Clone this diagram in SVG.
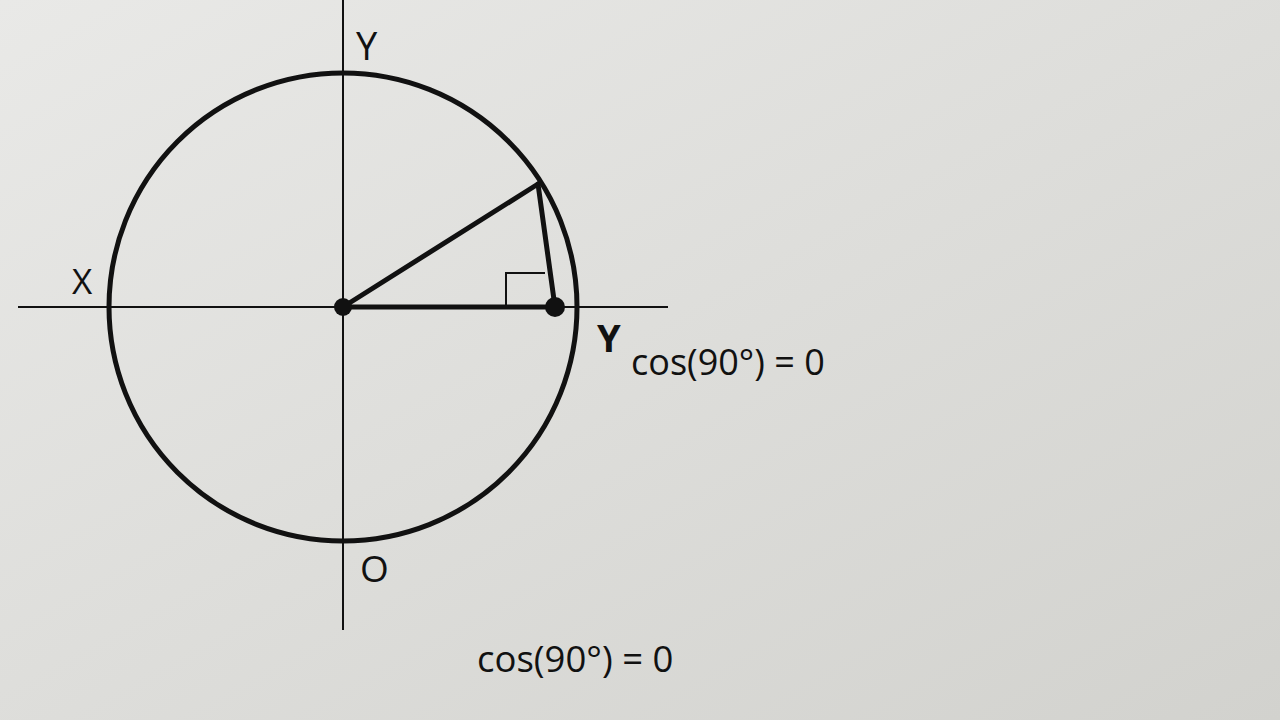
<svg xmlns="http://www.w3.org/2000/svg" width="1280" height="720" viewBox="0 0 1280 720">
<defs>
<linearGradient id="bg" x1="0" y1="0" x2="1" y2="1">
<stop offset="0" stop-color="#e9e9e7"/>
<stop offset="1" stop-color="#d2d2ce"/>
</linearGradient>
<style>
.axis{stroke:#111;stroke-width:2;fill:none}
.thick{stroke:#111;stroke-width:5;fill:none;stroke-linecap:round}
.lbl{font-family:"Open Sans","Noto Sans",sans-serif;fill:#111}
</style>
</defs>
<rect width="1280" height="720" fill="url(#bg)"/>
<g id="connectors">
<line class="axis" x1="18" y1="307" x2="668" y2="307"/>
<line class="axis" x1="343" y1="0" x2="343" y2="630"/>
<line class="thick" x1="343" y1="307" x2="538" y2="184"/>
<line class="thick" x1="538" y1="184" x2="555" y2="307"/>
<line class="thick" x1="343" y1="307" x2="555" y2="307"/>
<polyline class="axis" points="506,307 506,273 545,273"/>
</g>
<g id="circle"><ellipse cx="343" cy="307" rx="234" ry="234" fill="none" stroke="#111" stroke-width="5"/></g>
<g id="origin"><circle cx="343" cy="307" r="9" fill="#111"/></g>
<g id="foot"><circle cx="555" cy="307" r="10" fill="#111"/></g>
<g id="label-y-top"><text class="lbl" x="356" y="60" font-size="38">Y</text></g>
<g id="label-x"><text class="lbl" x="72" y="294" font-size="35">X</text></g>
<g id="label-o"><text class="lbl" x="360" y="582" font-size="37">O</text></g>
<g id="label-y-right"><text class="lbl" x="597" y="352" font-size="38" font-weight="bold">Y</text></g>
<g id="eq1"><text class="lbl" x="631" y="375" font-size="36">cos(90°) = 0</text></g>
<g id="eq2"><text class="lbl" x="477" y="672" font-size="36.5">cos(90°) = 0</text></g>
</svg>
